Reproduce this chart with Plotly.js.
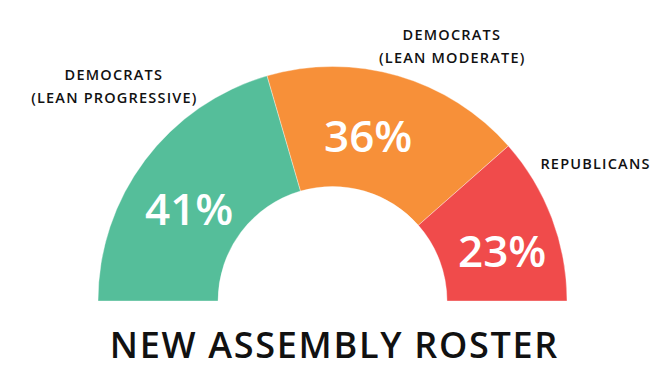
<!DOCTYPE html>
<html>
<head>
<meta charset="utf-8">
<script src="https://cdn.plot.ly/plotly-3.0.1.min.js"></script>
<style>
html,body{margin:0;padding:0;overflow:hidden;background:#fff;}
#chart{width:669px;height:620px;}
</style>
</head>
<body>
<div id="chart"></div>
<script>
const categories = ["DEMOCRATS<br>(LEAN PROGRESSIVE)", "DEMOCRATS<br>(LEAN MODERATE)", "REPUBLICANS"];
const shares = [41, 36, 23];
const colors = ["#55be9a", "#f79039", "#f04b4b"];
const chartTitle = "NEW ASSEMBLY ROSTER";

const W = 669, H = 620;
const cx = 332.5, cy = 301, R = 234.5;
const px = (x) => x / W;
const py = (y) => (H - y) / H;

const total = shares.reduce((a, b) => a + b, 0);
const trace = {
  type: 'pie',
  values: shares.concat([total]),
  labels: categories.concat(['hidden']),
  marker: {colors: colors.concat(['rgba(0,0,0,0)']), line: {color: 'rgba(255,255,255,0.6)', width: [0.6,0.6,0.6,0]}},
  sort: false,
  direction: 'clockwise',
  rotation: -90,
  hole: 114.5 / 234.5,
  textinfo: 'none',
  hoverinfo: 'none',
  showlegend: false,
  domain: {x: [px(cx - R), px(cx + R)], y: [py(cy + R), py(cy - R)]}
};

// label position: centre x, y of last line
const labelPos = [[114, 97], [452, 58], [595, 163]];
const lineGap = 23;
const pctPos = [[189, 207.5], [368, 135.5], [502, 250]];
const annotations = [];
const kinds = [];
categories.forEach((c, i) => {
  const lines = c.split('<br>');
  lines.forEach((ln, j) => {
    annotations.push({text: ln, xref: 'paper', yref: 'paper', x: px(labelPos[i][0]),
      y: py(labelPos[i][1] - (lines.length - 1 - j) * lineGap),
      xanchor: 'center', yanchor: 'middle', showarrow: false,
      font: {family: 'Open Sans', size: 14.5, color: '#111111', weight: 600}});
    kinds.push('lbl');
  });
  annotations.push({text: shares[i] + '%', xref: 'paper', yref: 'paper', x: px(pctPos[i][0]), y: py(pctPos[i][1]),
    xanchor: 'center', yanchor: 'middle', showarrow: false,
    font: {family: 'Open Sans', size: 44, color: '#ffffff', weight: 600}});
  kinds.push('pct');
});
annotations.push({text: chartTitle, xref: 'paper', yref: 'paper', x: px(334), y: py(344),
  xanchor: 'center', yanchor: 'middle', showarrow: false,
  font: {family: 'Open Sans', size: 36, color: '#111111', weight: 600}});
kinds.push('ttl');

const style = document.createElement('style');
style.textContent = kinds.map((k, i) => k === 'pct' ? '' :
  `.annotation[data-index="${i}"] text{letter-spacing:${k === 'ttl' ? 1.7 : 1.2}px;}`).join('\n');
document.head.appendChild(style);

Plotly.newPlot('chart', [trace], {
  width: W, height: H,
  margin: {l: 0, r: 0, t: 0, b: 0},
  paper_bgcolor: '#ffffff',
  plot_bgcolor: '#ffffff',
  annotations: annotations
}, {displayModeBar: false, staticPlot: true});
</script>
</body>
</html>
